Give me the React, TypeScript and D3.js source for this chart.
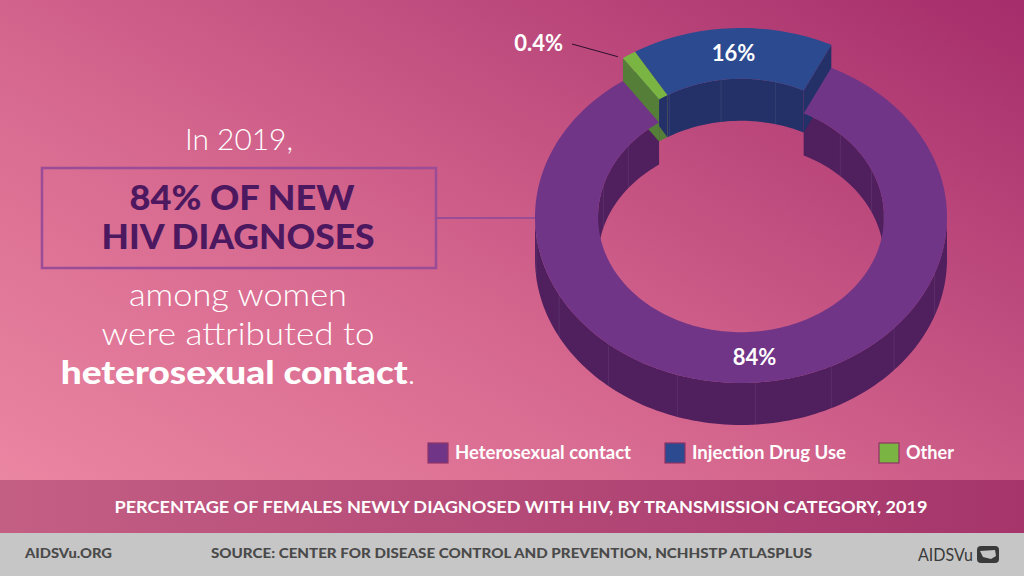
import React from "react";
import * as d3 from "d3";

const categories = ["Heterosexual contact", "Injection Drug Use", "Other"];
const values = [84, 16, 0.4];
const valueLabels = ["84%", "16%", "0.4%"];
const topColors = ["#713587", "#2b4a90", "#7ab442"];
const sideColors = ["#4f1f5e", "#243168", "#557e38"];
const exploded = [false, true, true];
// clockwise drawing order around the ring
const ringOrder = [0, 2, 1];

const W = 1024;
const H = 576;
const cx = 741;
const cy = 217;
const RX = 206;
const RY = 166;
const INNER = 0.694;
const DEPTH = 42;
const LIFT = -23;
const MIN_DEG = 4;
const START_DEG = 26;

const rad = (d: number) => (d * Math.PI) / 180;

function pt(deg: number, r: number, dy: number): [number, number] {
  return [cx + r * RX * Math.sin(rad(deg)), cy - r * RY * Math.cos(rad(deg)) + dy];
}

function arcPts(a0: number, a1: number, r: number, dy: number) {
  const n = Math.max(2, Math.ceil(Math.abs(a1 - a0) / 1.5));
  const pts: [number, number][] = [];
  for (let i = 0; i <= n; i++) pts.push(pt(a0 + ((a1 - a0) * i) / n, r, dy));
  return pts;
}

const line = d3.line<[number, number]>();

function intersect(a0: number, a1: number, b0: number, b1: number) {
  const out: [number, number][] = [];
  for (let k = -2; k <= 2; k++) {
    const lo = Math.max(a0, b0 + k * 360);
    const hi = Math.min(a1, b1 + k * 360);
    if (hi > lo) out.push([lo, hi]);
  }
  return out;
}

// angular layout with a minimum visible width for tiny slices
const total = d3.sum(values);
const isSmall = values.map((v) => (v / total) * 360 < MIN_DEG);
const rest = 360 - d3.sum(isSmall.map((s) => (s ? MIN_DEG : 0)));
const bigTotal = d3.sum(values.filter((_, i) => !isSmall[i]));
const spans = values.map((v, i) => (isSmall[i] ? MIN_DEG : (v / bigTotal) * rest));
const slices: { i: number; a0: number; a1: number; dy: number }[] = [];
let acc = START_DEG;
ringOrder.forEach((i) => {
  const a0 = acc;
  acc += spans[i];
  slices[i] = { i, a0, a1: acc, dy: exploded[i] ? LIFT : 0 };
});

export default function App() {
  const innerWalls: JSX.Element[] = [];
  const endFaces: JSX.Element[] = [];
  const outerWalls: JSX.Element[] = [];
  const tops: JSX.Element[] = [];
  const stripes: JSX.Element[] = [];

  [1, 2, 0].forEach((idx) => {
    const { i, a0, a1, dy } = slices[idx];
    intersect(a0, a1, -90, 90).forEach(([lo, hi], k) => {
      const p = [...arcPts(lo, hi, INNER, dy), ...arcPts(hi, lo, INNER, dy + DEPTH)];
      innerWalls.push(<path key={`iw${i}-${k}`} d={line(p) + "Z"} fill={sideColors[i]} />);
      for (let a = Math.ceil(lo / 22) * 22; a < hi; a += 22) {
        const t = pt(a, INNER, dy), b = pt(a, INNER, dy + DEPTH);
        stripes.push(<line key={`si${i}-${a}`} x1={t[0]} y1={t[1]} x2={b[0]} y2={b[1]} stroke="#ffffff" strokeOpacity={0.07} />);
      }
    });
    intersect(a0, a1, 90, 270).forEach(([lo, hi], k) => {
      const p = [...arcPts(lo, hi, 1, dy), ...arcPts(hi, lo, 1, dy + DEPTH)];
      outerWalls.push(<path key={`ow${i}-${k}`} d={line(p) + "Z"} fill={sideColors[i]} />);
      for (let a = Math.ceil(lo / 22) * 22; a < hi; a += 22) {
        const t = pt(a, 1, dy), b = pt(a, 1, dy + DEPTH);
        stripes.push(<line key={`so${i}-${a}`} x1={t[0]} y1={t[1]} x2={b[0]} y2={b[1]} stroke="#ffffff" strokeOpacity={0.07} />);
      }
    });
    const face = (a: number) => {
      const p = [pt(a, 1, dy), pt(a, INNER, dy), pt(a, INNER, dy + DEPTH), pt(a, 1, dy + DEPTH)];
      return line(p) + "Z";
    };
    if (Math.sin(rad(a0)) < 0) endFaces.push(<path key={`e0${i}`} d={face(a0)} fill={sideColors[i]} />);
    if (Math.sin(rad(a1)) > 0) endFaces.push(<path key={`e1${i}`} d={face(a1)} fill={sideColors[i]} />);
    const tp = [...arcPts(a0, a1, 1, dy), ...arcPts(a1, a0, INNER, dy)];
    tops.push(<path key={`t${i}`} d={line(tp) + "Z"} fill={topColors[i]} />);
  });

  const mid = (s: { a0: number; a1: number }) => (s.a0 + s.a1) / 2;
  const lblP = pt(mid(slices[0]), (1 + INNER) / 2, 0);
  const lblB = pt(mid(slices[1]), (1 + INNER) / 2, LIFT);
  const gOuter = pt(mid(slices[2]), 1.0, LIFT);

  const legendX = [428, 665, 879];
  const legendW = [176, 154, 48];
  const font = "Lato, 'Open Sans', sans-serif";

  return (
    <svg width={W} height={H} style={{ position: "absolute", left: 0, top: 0 }}>
      <defs>
        <linearGradient id="bg" x1="0" y1="1" x2="1" y2="0">
          <stop offset="0" stopColor="#ef8ca6" />
          <stop offset="0.45" stopColor="#d6688f" />
          <stop offset="1" stopColor="#a52d6b" />
        </linearGradient>
        <linearGradient id="band" x1="0" y1="0" x2="1" y2="0">
          <stop offset="0" stopColor="#c45f84" />
          <stop offset="1" stopColor="#a5356b" />
        </linearGradient>
      </defs>
      <rect x={0} y={0} width={W} height={H} fill="url(#bg)" />

      {/* left text */}
      <text x={239} y={150} textAnchor="middle" fill="#fff" fontFamily={font} fontWeight={300} fontSize={30} textLength={108} lengthAdjust="spacingAndGlyphs">In 2019,</text>
      <rect x={42} y={168} width={394} height={100} fill="none" stroke="#9b4c96" strokeWidth={2.5} />
      <line x1={436} y1={218} x2={537} y2={218} stroke="#9b4c96" strokeWidth={2} />
      <text x={242} y={210} textAnchor="middle" fill="#4c185f" fontFamily={font} fontWeight={900} fontSize={35} textLength={225} lengthAdjust="spacingAndGlyphs">84% OF NEW</text>
      <text x={238} y={249} textAnchor="middle" fill="#4c185f" fontFamily={font} fontWeight={900} fontSize={35} textLength={273} lengthAdjust="spacingAndGlyphs">HIV DIAGNOSES</text>
      <text x={238} y={306} textAnchor="middle" fill="#fff" fontFamily={font} fontWeight={300} fontSize={32} textLength={218} lengthAdjust="spacingAndGlyphs">among women</text>
      <text x={238} y={345} textAnchor="middle" fill="#fff" fontFamily={font} fontWeight={300} fontSize={32} textLength={273} lengthAdjust="spacingAndGlyphs">were attributed to</text>
      <text x={238} y={384} textAnchor="middle" fill="#fff" fontFamily={font} fontSize={32}>
        <tspan fontWeight={900} textLength={347} lengthAdjust="spacingAndGlyphs">heterosexual contact</tspan><tspan fontWeight={300}>.</tspan>
      </text>

      {/* donut */}
      <g>
        {innerWalls}
        {endFaces}
        {outerWalls}
        {stripes}
        {tops}
      </g>
      <text x={lblB[0]} y={lblB[1] + 7} textAnchor="middle" fill="#fff" fontFamily={font} fontWeight={700} fontSize={22}>{valueLabels[1]}</text>
      <text x={lblP[0]} y={lblP[1] + 8} textAnchor="middle" fill="#fff" fontFamily={font} fontWeight={700} fontSize={22}>{valueLabels[0]}</text>
      <text x={563} y={51} textAnchor="end" fill="#fff" fontFamily={font} fontWeight={700} fontSize={22}>{valueLabels[2]}</text>
      <line x1={572} y1={44} x2={gOuter[0] - 11} y2={gOuter[1] + 2} stroke="#2a1030" strokeWidth={1} />

      {/* legend */}
      {categories.map((c, i) => (
        <g key={c}>
          <rect x={legendX[i]} y={443} width={20} height={20} fill={topColors[i]} stroke="#8e3466" strokeWidth={1.2} />
          <text x={legendX[i] + 27} y={459} fill="#fff" fontFamily={font} fontWeight={700} fontSize={18} textLength={legendW[i]} lengthAdjust="spacingAndGlyphs">{c}</text>
        </g>
      ))}

      {/* band */}
      <rect x={0} y={480} width={W} height={53} fill="url(#band)" />
      <text x={521} y={513} textAnchor="middle" fill="#fff" fontFamily={font} fontWeight={700} fontSize={17} textLength={813} lengthAdjust="spacingAndGlyphs">
        PERCENTAGE OF FEMALES NEWLY DIAGNOSED WITH HIV, BY TRANSMISSION CATEGORY, 2019
      </text>

      {/* footer */}
      <rect x={0} y={533} width={W} height={43} fill="#c6c6c6" />
      <text x={25} y={558} fill="#4a4a4a" fontFamily={font} fontWeight={900} fontSize={13} textLength={87} lengthAdjust="spacingAndGlyphs">AIDSVu.ORG</text>
      <text x={211} y={558} fill="#4a4a4a" fontFamily={font} fontWeight={900} fontSize={13} textLength={601} lengthAdjust="spacingAndGlyphs">
        SOURCE: CENTER FOR DISEASE CONTROL AND PREVENTION, NCHHSTP ATLASPLUS
      </text>
      <text x={918} y={561} fill="#3a3a3a" fontFamily={font} fontWeight={400} fontSize={18} textLength={55} lengthAdjust="spacingAndGlyphs">AIDSVu</text>
      <rect x={977} y={546} width={22} height={17} rx={4} fill="#3a3a3a" />
      <path d="M980,551 L995,550 L996,556 L991,559 L983,557 Z" fill="#c6c6c6" />
    </svg>
  );
}
